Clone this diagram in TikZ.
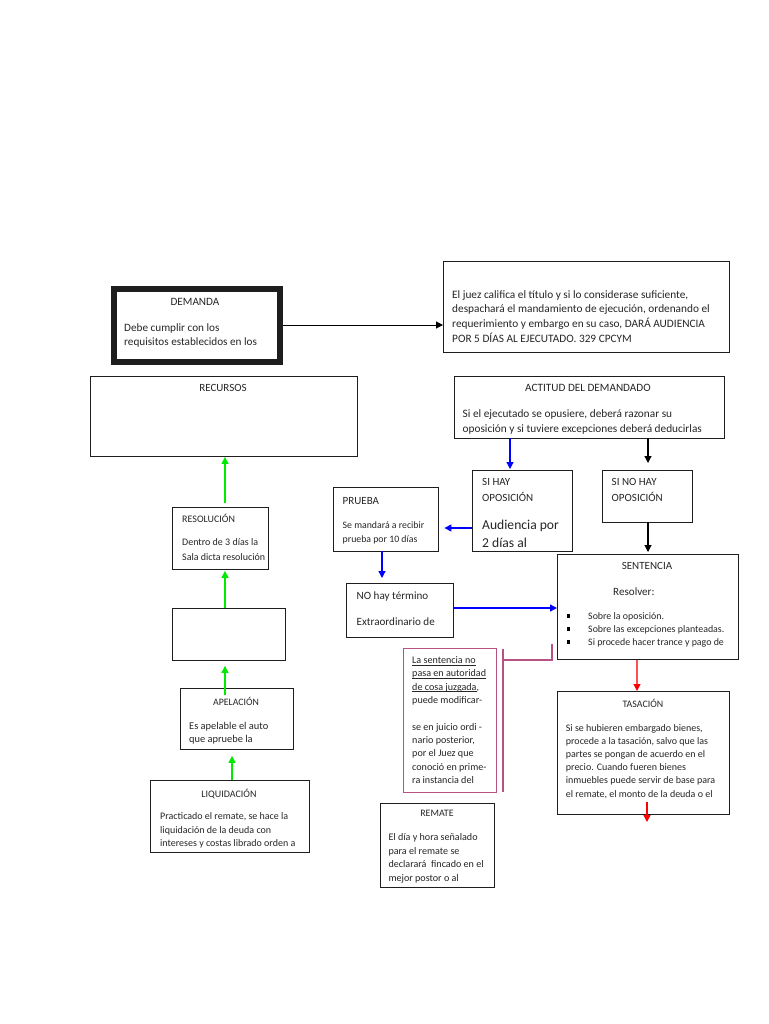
\documentclass[tikz,border=0pt]{standalone}
\usepackage{fontspec}
\setmainfont{Carlito}
\usetikzlibrary{arrows.meta,calc}
\definecolor{pinkc}{RGB}{182,82,132}
\definecolor{grn}{RGB}{0,235,0}
\definecolor{blu}{RGB}{0,0,255}
\definecolor{rd}{RGB}{255,0,0}
\definecolor{rdl}{RGB}{255,80,80}
\definecolor{bord}{RGB}{30,30,30}
\newcommand\fs[1]{\fontsize{#1}{#1}\selectfont}
\newcommand\myul[1]{\setbox0=\hbox{#1}\rlap{\rule[-2pt]{\wd0}{0.8pt}}\box0}
\tikzset{
  box/.style={draw=bord, line width=0.9pt, inner sep=0pt, anchor=north west},
  txt/.style={inner sep=0pt, anchor=base west, text=black!85},
  ctr/.style={inner sep=0pt, anchor=base, text=black!85},
  arr/.style={line width=1.3pt, -{Triangle[width=7pt,length=7pt]}},
}
% box: name, x1, y1, x2, y2
\newcommand\bx[6][]{\node[box,#1,minimum width={#4-#2},minimum height={#5-#3}] (#6) at (#2,#3) {};}
% text lines: name, x, first baseline, line step, font size, list
\newcommand\tl[6]{\foreach \l [count=\i] in {#6}{\node[txt,font=\fs{#5}] (#1-\i) at ({#2},{#3+(\i-1)*#4}) {\l};}}
\begin{document}
\begin{tikzpicture}[x=1pt,y=-1pt]
\fill[white] (0,0) rectangle (768,1024);
\useasboundingbox (0,0) rectangle (768,1024);

% DEMANDA
\bx[line width=6pt]{111}{286}{277}{359}{dem}
\node[ctr,font=\fs{11.2}] (demT) at (195,305) {DEMANDA};
\tl{demL}{124}{331.5}{13.6}{11.2}{{Debe cumplir con los},{requisitos establecidos en los}}

% Juez
\bx{443}{261}{729}{352}{juez}
\tl{juezL}{452}{298}{14.7}{11.3}{{El juez califica el título y si lo considerase suficiente,},{despachará el mandamiento de ejecución, ordenando el},{requerimiento y embargo en su caso, DARÁ AUDIENCIA},{POR 5 DÍAS AL EJECUTADO. 329 CPCYM}}

% RECURSOS
\bx{89.5}{375.5}{356.5}{456}{rec}
\node[ctr,font=\fs{11}] (recT) at (223,391.5) {RECURSOS};

% ACTITUD
\bx{453.5}{375.5}{724}{437.5}{act}
\node[ctr,font=\fs{11.2}] (actT) at (588,391.5) {ACTITUD DEL DEMANDADO};
\tl{actL}{462.5}{417.5}{15}{11.3}{{Si el ejecutado se opusiere, deberá razonar su},{oposición y si tuviere excepciones deberá deducirlas}}

% SI HAY
\bx{472}{470}{571.5}{550.5}{sihay}
\tl{sihayL}{482}{485.5}{15.5}{11}{{SI HAY},{OPOSICIÓN}}
\tl{sihayA}{482}{529.5}{18}{13.6}{{Audiencia por},{2 días al}}

% SI NO HAY
\bx{601.5}{470}{692}{521.5}{sino}
\tl{sinoL}{611.5}{485.5}{15.5}{11}{{SI NO HAY},{OPOSICIÓN}}

% PRUEBA
\bx{333}{487}{438}{550.5}{prueba}
\node[txt,font=\fs{11}] (pruebaT) at (342.5,504) {PRUEBA};
\tl{pruebaL}{342.5}{528.5}{14}{9.8}{{Se mandará a recibir},{prueba por 10 días}}

% NO hay termino
\bx{346}{583}{452.5}{636.5}{nohay}
\tl{nohayL}{356.5}{599}{26.5}{11.1}{{NO hay término},{Extraordinario de}}

% SENTENCIA
\bx{557}{554}{737.5}{659}{sent}
\node[ctr,font=\fs{11}] (sentT) at (647,569) {SENTENCIA};
\node[txt,font=\fs{11.1}] (sentR) at (613,595) {Resolver:};
\tl{sentL}{588}{619.5}{13}{9.9}{{Sobre la oposición.},{Sobre las excepciones planteadas.},{Si procede hacer trance y pago de}}
\foreach \yy in {616,629,642} \fill[black] (566.8,\yy-1.6) rectangle +(3.2,3.2);

% TASACION
\bx{557}{691}{729}{814}{tas}
\node[ctr,font=\fs{9.9}] (tasT) at (643,707) {TASACIÓN};
\tl{tasL}{565.7}{731.3}{13.15}{10}{{Si se hubieren embargado bienes,},{procede a la tasación, salvo que las},{partes se pongan de acuerdo en el},{precio. Cuando fueren bienes},{inmuebles puede servir de base para},{el remate, el monto de la deuda o el}}

% Pink box
\bx[draw=pinkc,line width=1.2pt]{403}{648}{495.7}{792}{pk}
\tl{pkA}{412}{663.5}{13.35}{10.1}{{\myul{La sentencia no}},{\myul{pasa en autoridad}},{\myul{de cosa juzgada},},{puede modificar-}}
\tl{pkB}{412}{730.2}{13.35}{10.1}{{se en juicio ordi -},{nario posterior,},{por el Juez que},{conoció en prime-},{ra instancia del}}
\coordinate (pb1) at (552,644);
\coordinate (pb2) at (552,660);
\coordinate (pb3) at (503,660);
\coordinate (pb4) at (503,649);
\coordinate (pb5) at (503,792);
\draw[pinkc,line width=1.2pt] (pb1) -- (pb2) -- (pb3);
\draw[pinkc,line width=1.2pt] (pb4) -- (pb5);

% REMATE
\bx{380}{803}{494}{887}{rem}
\node[ctr,font=\fs{9.9}] (remT) at (437,816.5) {REMATE};
\tl{remL}{388.3}{840.8}{13.5}{10.1}{{El día y hora señalado},{para el remate se},{declarará\ \ fincado en el},{mejor postor o al}}

% LIQUIDACION
\bx{150}{780}{309}{852}{liq}
\node[ctr,font=\fs{10}] (liqT) at (229,797) {LIQUIDACIÓN};
\tl{liqL}{160}{819.5}{13.5}{10}{{Practicado el remate, se hace la},{liquidación de la deuda con},{intereses y costas librado orden a}}

% APELACION
\bx{180}{688}{293}{749}{apel}
\node[ctr,font=\fs{9.8}] (apelT) at (236,705) {APELACIÓN};
\tl{apelL}{189}{729.5}{12.5}{10.4}{{Es apelable el auto},{que apruebe la}}

% empty box
\bx{172}{608}{285.3}{660}{vac}

% RESOLUCION
\bx{172}{507}{268.3}{569}{res}
\node[txt,font=\fs{10}] (resT) at (182,522) {RESOLUCIÓN};
\tl{resL}{182}{545.5}{15}{10}{{Dentro de 3 días la},{Sala dicta resolución}}

% Connectors
\draw[arr,black,line width=1pt] (dem.east |- 0,325) -- (juez.west |- 0,325);
\draw[arr,blu] (act.south -| 510,0) -- ([yshift=1pt]sihay.north -| 510,0);
\draw[arr,black,line width=1.1pt] (act.south -| 648,0) -- ([yshift=7pt]sino.north -| 648,0);
\draw[arr,blu] (sihay.west |- 0,528) -- ([xshift=5.5pt]prueba.east |- 0,528);
\draw[arr,blu] (prueba.south -| 382,0) -- ([yshift=5pt]nohay.north -| 382,0);
\draw[arr,blu] (nohay.east |- 0,608) -- (sent.west |- 0,608);
\draw[arr,black,line width=1.1pt] (sino.south -| 648,0) -- ([yshift=2pt]sent.north -| 648,0);
\draw[line width=1.2pt,rdl] (sent.south -| 637,0) -- ([yshift=6pt]tas.north -| 637,0);
\draw[arr,rd] ([yshift=6pt]tas.north -| 637,0) -- (tas.north -| 637,0);
\coordinate (tasin) at (647,802);
\coordinate (tasout) at (647,822);
\draw[arr,rd] (tasin) -- (tasout);
\draw[arr,grn] (liq.north -| 232,0) -- ([yshift=-6pt]apel.south -| 232,0);
\draw[arr,grn] ($(apel.north -| 225,0)+(0,7)$) -- ([yshift=-5pt]vac.south -| 225,0);
\draw[arr,grn] (vac.north -| 225,0) -- ([yshift=-1pt]res.south -| 225,0);
\draw[arr,grn] ($(res.north -| 225,0)+(0,-4)$) -- (rec.south -| 225,0);
\end{tikzpicture}
\end{document}
